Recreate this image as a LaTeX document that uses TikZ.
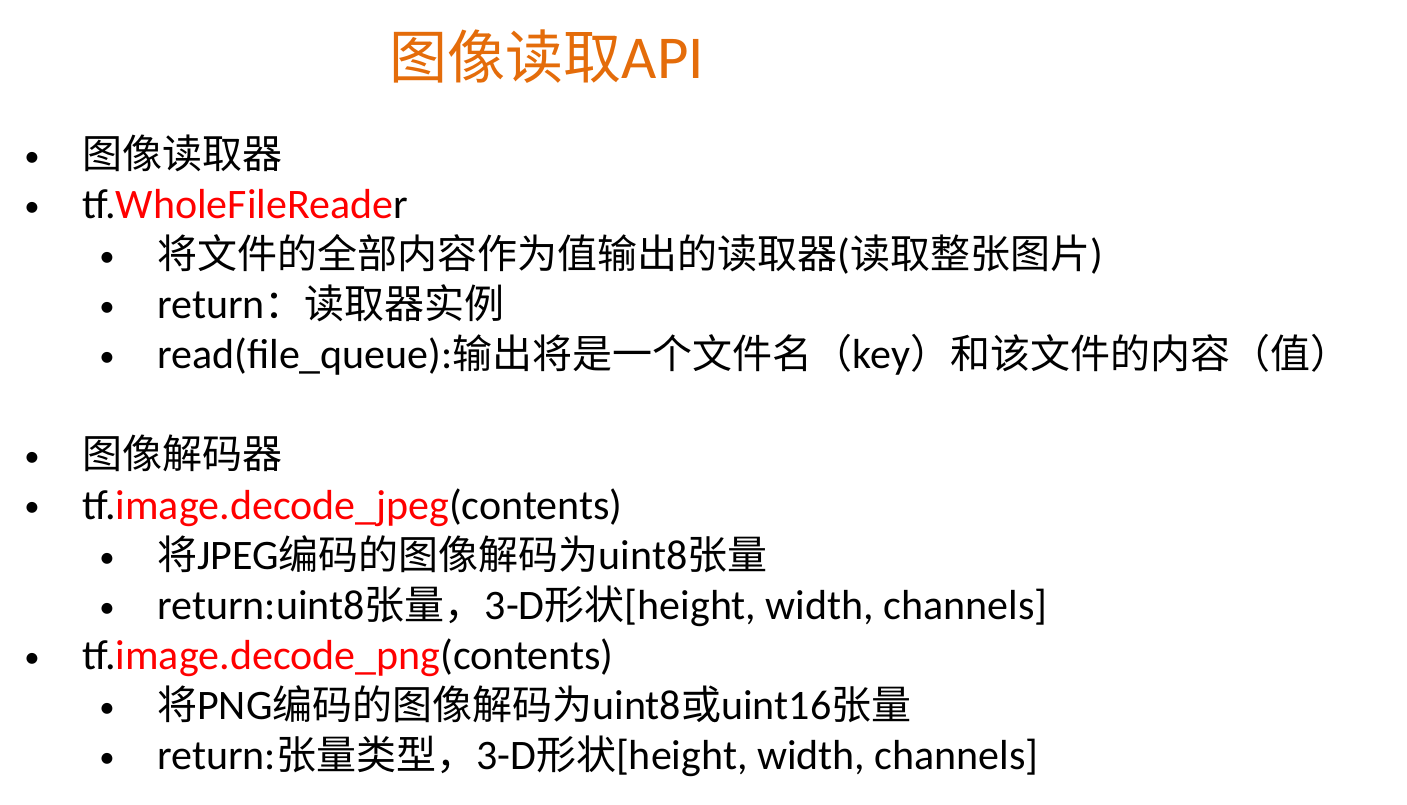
\documentclass[tikz,border=0pt]{standalone}
\usepackage{fontspec}
\setmainfont{Carlito}[Scale=1.05]
\newfontfamily\cjk{Noto Sans CJK SC}
\definecolor{titleorange}{HTML}{E46C0A}
\begin{document}
\begin{tikzpicture}[x=0.75pt, y=-0.75pt,
    line/.style={anchor=base west, inner sep=0pt, font=\fontsize{30}{36}\selectfont},
    dot/.style={anchor=base, inner sep=0pt, font=\fontsize{22}{26}\selectfont}]
\useasboundingbox (0,0) rectangle (1407,805);
\node[anchor=base, inner sep=0pt, text=titleorange, font=\fontsize{43.5}{52}\selectfont]
  (title) at (547,79) {{\cjk 图像读取}API};
% level one
\foreach \y/\name in {167/a,217/b,467/c,517/d,667/e}
  \node[dot] (dot\name) at (32,\y) {\textbullet};
\node[line] (reader) at (82,169) {\cjk 图像读取器};
\node[line] (whole) at (82,219) {tf.\textcolor{red}{WholeFileReade}r};
\node[line] (decoder) at (82,469) {\cjk 图像解码器};
\node[line] (jpeg) at (82,519) {tf.\textcolor{red}{image.decode\_jpeg}(contents)};
\node[line] (png) at (82,669) {tf.\textcolor{red}{image.decode\_png}(contents)};
% level two
\foreach \y/\name in {267/a,317/b,367/c,567/d,617/e,717/f,767/g}
  \node[dot] (sub\name) at (107,\y) {\textbullet};
\node[line] (wholea) at (157,269) {{\cjk 将文件的全部内容作为值输出的读取器}({\cjk 读取整张图片})};
\node[line] (wholeb) at (157,319) {return{\cjk ：读取器实例}};
\node[line] (wholec) at (157,369) {read(file\_queue):{\cjk 输出将是一个文件名（}key{\cjk ）和该文件的内容（值）}};
\node[line] (jpega) at (157,569) {{\cjk 将}JPEG{\cjk 编码的图像解码为}uint8{\cjk 张量}};
\node[line] (jpegb) at (157,619) {return:uint8{\cjk 张量，}3-D{\cjk 形状}[height, width, channels]};
\node[line] (pnga) at (157,719) {{\cjk 将}PNG{\cjk 编码的图像解码为}uint8{\cjk 或}uint16{\cjk 张量}};
\node[line] (pngb) at (157,769) {return:{\cjk 张量类型，}3-D{\cjk 形状}[height, width, channels]};
\end{tikzpicture}
\end{document}
